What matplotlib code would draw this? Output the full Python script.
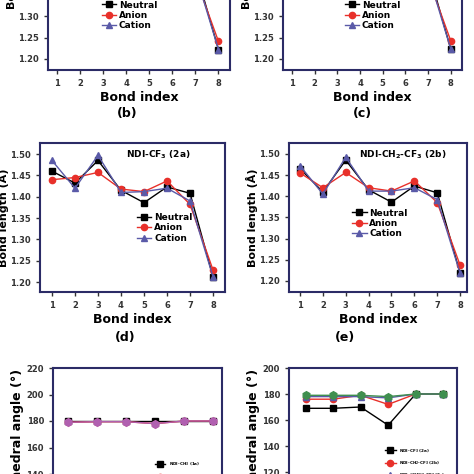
import matplotlib
matplotlib.use("Agg")
import matplotlib.pyplot as plt

plt.rcParams['font.family'] = ['DejaVu Sans']
plt.rcParams['font.weight'] = 'bold'

bond_index = [1, 2, 3, 4, 5, 6, 7, 8]
# top panels (b),(c): only bottom part visible
b_neutral = [1.46, 1.43, 1.48, 1.415, 1.39, 1.42, 1.41, 1.222]
b_anion = [1.44, 1.44, 1.46, 1.42, 1.41, 1.435, 1.39, 1.241]
b_cation = [1.48, 1.42, 1.49, 1.41, 1.41, 1.42, 1.40, 1.222]
c_neutral = [1.46, 1.41, 1.48, 1.415, 1.39, 1.42, 1.41, 1.224]
c_anion = [1.45, 1.42, 1.46, 1.42, 1.41, 1.435, 1.39, 1.243]
c_cation = [1.47, 1.40, 1.49, 1.41, 1.41, 1.42, 1.40, 1.224]
# panel (d) NDI-CF3 (2a)
d_neutral = [1.46, 1.432, 1.485, 1.415, 1.386, 1.423, 1.408, 1.212]
d_anion = [1.44, 1.445, 1.457, 1.418, 1.412, 1.437, 1.382, 1.228]
d_cation = [1.485, 1.42, 1.497, 1.41, 1.412, 1.42, 1.39, 1.212]
# panel (e) NDI-CH2-CF3 (2b)
e_neutral = [1.465, 1.41, 1.485, 1.415, 1.386, 1.424, 1.408, 1.218]
e_anion = [1.455, 1.42, 1.456, 1.42, 1.412, 1.436, 1.385, 1.237]
e_cation = [1.472, 1.405, 1.492, 1.412, 1.412, 1.42, 1.392, 1.218]
# dihedral panels
dih_x = [1, 2, 3, 4, 5, 6]
f_1a = [180, 180, 180, 180, 180, 180]
f_1b = [179, 179.5, 179.5, 178, 180, 180]
f_1c = [179, 179.5, 179.5, 178, 180, 180]
g_2a = [169, 169, 170, 156, 180, 180]
g_2b = [176, 176, 179, 172, 180, 180]
g_2c = [178, 178, 178, 177, 180, 180]
g_2d = [179, 179, 179, 178, 180, 180]

W = H = 474
fig = plt.figure(figsize=(4.74, 4.74), dpi=100)
SP = '#2b2b66'
CN, CA, CC = 'black', '#e8302a', '#5a5aa8'

def ax_px(l, t, r, b):
    return fig.add_axes([l / W, 1 - b / H, (r - l) / W, (b - t) / H])

def style(ax):
    for s in ax.spines.values():
        s.set_color(SP); s.set_linewidth(1.5)
    ax.tick_params(colors='#333333', labelsize=6, width=1, length=3, direction='out')
    for lab in ax.get_xticklabels() + ax.get_yticklabels():
        lab.set_fontweight('bold')

def bond_panel(l, t, r, b, ylim, xlim, n, a, c, title=None, leg=(0.42, 0.25), letter=None, letter_x=None, letter_y=None, yticks=None):
    ax = ax_px(l, t, r, b)
    ax.plot(bond_index, n, '-s', color=CN, ms=4.5, lw=1, label='Neutral')
    ax.plot(bond_index, a, '-o', color=CA, ms=4.5, lw=1, label='Anion')
    ax.plot(bond_index, c, '-^', color=CC, ms=5, lw=1, label='Cation')
    ax.set_xlim(*xlim); ax.set_ylim(*ylim)
    ax.set_xticks(bond_index)
    ax.set_yticks(yticks if yticks else [1.20, 1.25, 1.30, 1.35, 1.40, 1.45, 1.50])
    ax.yaxis.set_major_formatter(matplotlib.ticker.FormatStrFormatter('%.2f'))
    ax.set_xlabel('Bond index', fontsize=9, fontweight='bold', labelpad=2)
    ax.set_ylabel('Bond length (Å)', fontsize=8, fontweight='bold', labelpad=1)
    style(ax)
    ax.legend(loc='lower left', bbox_to_anchor=leg, frameon=False,
              handlelength=1.6, labelspacing=0.15, borderpad=0, handletextpad=0.3,
              prop={'weight': 'bold', 'size': 6.5})
    if title:
        ax.text(0.64, 0.9, title, transform=ax.transAxes, fontsize=6.5, fontweight='bold', ha='center')
    if letter:
        fig.text(letter_x / W, 1 - letter_y / H, letter, fontsize=9, fontweight='bold', ha='center', va='center')
    return ax

bond_panel(48, -150, 230, 70, (1.174, 1.69), (0.6, 8.5), b_neutral, b_anion, b_cation,
           leg=(0.27, 0.16), letter='(b)', letter_x=127, letter_y=113, yticks=[1.20, 1.25, 1.30, 1.35])
bond_panel(283, -150, 462, 70, (1.174, 1.69), (0.6, 8.5), c_neutral, c_anion, c_cation,
           leg=(0.32, 0.16), letter='(c)', letter_x=362, letter_y=113, yticks=[1.20, 1.25, 1.30, 1.35])
bond_panel(40, 143, 225, 292, (1.1766, 1.526), (0.48, 8.52), d_neutral, d_anion, d_cation,
           title='NDI-CF$_3$ (2a)', leg=(0.5, 0.3), letter='(d)', letter_x=125, letter_y=338)
bond_panel(289, 143, 467, 292, (1.174, 1.5255), (0.52, 8.3), e_neutral, e_anion, e_cation,
           title='NDI-CH$_2$-CF$_3$ (2b)', leg=(0.33, 0.33), letter='(e)', letter_x=345, letter_y=338)

# dihedral panels
ax = ax_px(53, 368, 222, 620)
ax.plot(dih_x, f_1a, '-s', color=CN, ms=4.5, lw=1, label='NDI-CH$_3$ (1a)')
ax.plot(dih_x, f_1b, '-o', color=CA, ms=4.5, lw=1, label='NDI-CH$_2$-CH$_3$ (1b)')
ax.plot(dih_x, f_1c, '-h', color='#b060b0', ms=5.5, lw=1, label='NDI-(CH$_2$)$_2$-CH$_3$ (1c)')
ax.set_xlim(0.5, 6.3); ax.set_ylim(220 - 252 * 20 / 26.5, 220)
ax.set_yticks([60, 80, 100, 120, 140, 160, 180, 200, 220])
ax.set_xticks([])
ax.set_ylabel('Dihedral angle (°)', fontsize=9, fontweight='bold', labelpad=2, y=0.75)
style(ax)
ax.legend(loc='upper left', bbox_to_anchor=(0.58, 0.645), frameon=False,
          prop={'weight': 'bold', 'size': 3}, handlelength=2.5, labelspacing=1.2)

ax = ax_px(289, 368, 457, 620)
ax.plot(dih_x, g_2a, '-s', color=CN, ms=4.5, lw=1, label='NDI-CF$_3$ (2a)')
ax.plot(dih_x, g_2b, '-o', color=CA, ms=4.5, lw=1, label='NDI-CH$_2$-CF$_3$ (2b)')
ax.plot(dih_x, g_2c, '-^', color=CC, ms=5, lw=1, label='NDI-(CH$_2$)$_2$-CF$_3$ (2c)')
ax.plot(dih_x, g_2d, '-h', color='#3f8f4f', ms=5.5, lw=1, label='NDI-(CH$_2$)$_3$-CF$_3$ (2d)')
ax.set_xlim(0.4, 6.5); ax.set_ylim(200 - 252 * 20 / 26, 200)
ax.set_yticks([20, 40, 60, 80, 100, 120, 140, 160, 180, 200])
ax.set_xticks([])
ax.set_ylabel('Dihedral angle (°)', fontsize=9, fontweight='bold', labelpad=2, y=0.75)
style(ax)
ax.legend(loc='upper left', bbox_to_anchor=(0.55, 0.7), frameon=False,
          prop={'weight': 'bold', 'size': 3}, handlelength=2.5, labelspacing=1.2)

fig.savefig('out.png', dpi=100)
